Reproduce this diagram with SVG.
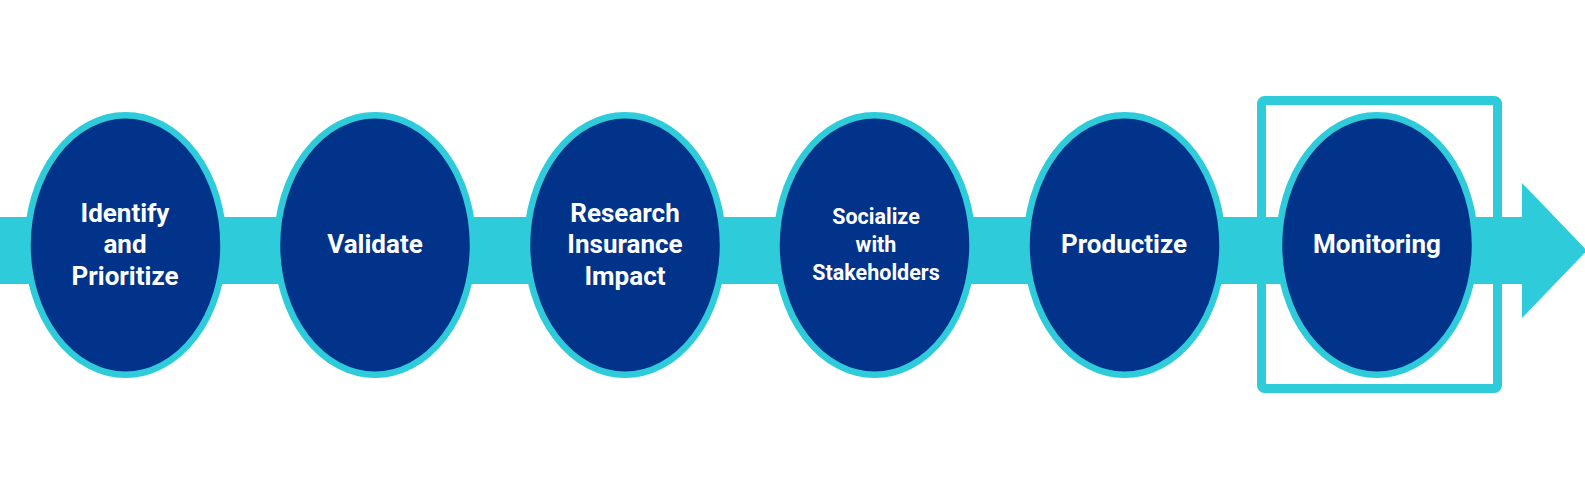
<svg xmlns="http://www.w3.org/2000/svg" width="1585" height="492" viewBox="0 0 1585 492">
<style>
.band{fill:#2ECCDB}
.node{fill:#01338B;stroke:#2ECCDB;stroke-width:6.5}
.lbl{fill:#ffffff;font-family:Roboto,"Liberation Sans",sans-serif;font-weight:bold;font-size:26px;text-anchor:middle}
.sm{font-size:21.5px}
.frame{fill:none;stroke:#2ECCDB;stroke-width:9}
</style>
<rect width="1585" height="492" fill="#ffffff"/>
<g id="connectors">
<rect class="band" x="0" y="217" width="1523" height="67"/>
<polygon class="band" points="1522,183 1587,250.5 1522,318"/>
</g>
<g id="node-identify">
<ellipse class="node" cx="125.5" cy="245" rx="98" ry="129.8"/>
<text class="lbl" x="125" y="222">Identify</text>
<text class="lbl" x="125" y="253">and</text>
<text class="lbl" x="125" y="285">Prioritize</text>
</g>
<g id="node-validate">
<ellipse class="node" cx="375" cy="245" rx="98" ry="129.8"/>
<text class="lbl" x="375" y="253">Validate</text>
</g>
<g id="node-research">
<ellipse class="node" cx="625" cy="245" rx="98" ry="129.8"/>
<text class="lbl" x="625" y="222">Research</text>
<text class="lbl" x="625" y="253">Insurance</text>
<text class="lbl" x="625" y="285">Impact</text>
</g>
<g id="node-socialize">
<ellipse class="node" cx="874.5" cy="245" rx="98" ry="129.8"/>
<text class="lbl sm" x="876" y="224">Socialize</text>
<text class="lbl sm" x="876" y="252">with</text>
<text class="lbl sm" x="876" y="280">Stakeholders</text>
</g>
<g id="node-productize">
<ellipse class="node" cx="1124.5" cy="245" rx="98" ry="129.8"/>
<text class="lbl" x="1124" y="253">Productize</text>
</g>
<g id="node-monitoring">
<rect class="frame" x="1261.5" y="100.5" width="236" height="288" rx="3"/>
<ellipse class="node" cx="1377" cy="245" rx="98" ry="129.8"/>
<text class="lbl" x="1377" y="253">Monitoring</text>
</g>
</svg>
